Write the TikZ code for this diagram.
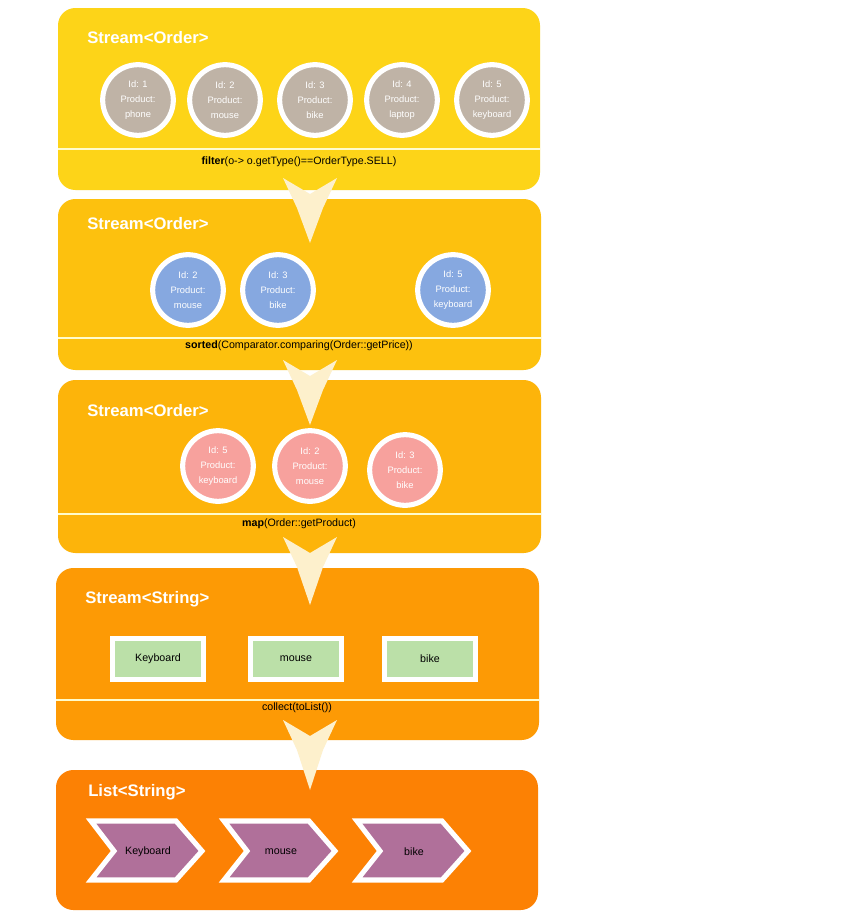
\documentclass[tikz,border=0pt]{standalone}
\usepackage{fontspec}
\setmainfont{Liberation Sans}
\definecolor{p1}{HTML}{FDD418}
\definecolor{p2}{HTML}{FDC10E}
\definecolor{p3}{HTML}{FDB40A}
\definecolor{p4}{HTML}{FD9A05}
\definecolor{p5}{HTML}{FC8104}
\definecolor{grayc}{HTML}{BFB3A6}
\definecolor{bluec}{HTML}{86A8E0}
\definecolor{pinkc}{HTML}{F7A19D}
\definecolor{greenc}{HTML}{BBE0A8}
\definecolor{purc}{HTML}{B0709A}
\definecolor{cream}{HTML}{FDF0CC}
\tikzset{
 panel/.style={rounded corners=13pt,draw=none},
 ttl/.style={anchor=west,text=white,font=\bfseries\fontsize{12.5}{14}\selectfont,inner sep=0},
 op/.style={font=\fontsize{8}{10}\selectfont,inner sep=0},
 item/.style={circle,draw=white,line width=3.8pt,minimum size=53pt,inner sep=0,align=center,text=white,font=\fontsize{7}{11}\selectfont},
 strbox/.style={draw=white,line width=3.8pt,minimum width=68pt,minimum height=31pt,fill=greenc,font=\fontsize{8}{10}\selectfont},
 chev/.style={fill=purc,draw=white,line width=3.8pt,line join=miter},
 bigarrow/.style={fill=cream,draw=none},
 divider/.style={draw=white!80!yellow,line width=1pt}
}
\begin{document}
\begin{tikzpicture}[x=0.75pt,y=-0.75pt]
\useasboundingbox[fill=white] (0,0) rectangle (862,918);
% panels
\fill[p1,panel] (58,8) rectangle (540,190);
\fill[p2,panel] (58,199) rectangle (541,370);
\fill[p3,panel] (58,380) rectangle (541,553);
\fill[p4,panel] (56,568) rectangle (539,740);
\fill[p5,panel] (56,770) rectangle (538,910);
\draw[divider] (58,149) -- (540,149);
\draw[divider] (58,338) -- (541,338);
\draw[divider] (58,514) -- (541,514);
\draw[divider] (56,700) -- (539,700);
% arrows
\foreach \ya/\yb in {178/243, 360/425, 537/605, 720/790}{
 \fill[bigarrow] (283,\ya) -- (310,\ya+16) -- (337,\ya) -- (323,\ya+30) -- (310,\yb) -- (297,\ya+30) -- cycle;
}
% titles
\node[ttl] (t1) at (87,38) {Stream<Order>};
\node[ttl] (t2) at (87,224) {Stream<Order>};
\node[ttl] (t3) at (87,411) {Stream<Order>};
\node[ttl] (t4) at (85,599) {Stream<String>};
\node[ttl] (t5) at (88,792) {List<String>};
% ops
\node[op] (o1) at (299,162) {\textbf{filter}(o-> o.getType()==OrderType.SELL)};
\node[op] (o2) at (299,346) {\textbf{sorted}(Comparator.comparing(Order::getPrice))};
\node[op] (o3) at (299,524) {\textbf{map}(Order::getProduct)};
\node[op] (o4) at (297,708) {collect(toList())};
% panel 1
\node[item,fill=grayc] (a1) at (138,100) {Id: 1\\Product:\\phone};
\node[item,fill=grayc] (a2) at (225,100) {Id: 2\\Product:\\mouse};
\node[item,fill=grayc] (a3) at (315,100) {Id: 3\\Product:\\bike};
\node[item,fill=grayc] (a4) at (402,100) {Id: 4\\Product:\\laptop};
\node[item,fill=grayc] (a5) at (492,100) {Id: 5\\Product:\\keyboard};
% panel 2
\node[item,fill=bluec] (b2) at (188,290) {Id: 2\\Product:\\mouse};
\node[item,fill=bluec] (b3) at (278,290) {Id: 3\\Product:\\bike};
\node[item,fill=bluec] (b5) at (453,290) {Id: 5\\Product:\\keyboard};
% panel 3
\node[item,fill=pinkc] (c5) at (218,466) {Id: 5\\Product:\\keyboard};
\node[item,fill=pinkc] (c2) at (310,466) {Id: 2\\Product:\\mouse};
\node[item,fill=pinkc] (c3) at (405,470) {Id: 3\\Product:\\bike};
% panel 4
\node[strbox] (d1) at (158,659) {Keyboard};
\node[strbox] (d2) at (296,659) {mouse};
\node[strbox] (d3) at (430,659) {bike};
% panel 5
\foreach \x/\t/\n in {88/Keyboard/e1,221/mouse/e2,354/bike/e3}{
 \draw[chev] (\x+3,821) -- (\x+88,821) -- (\x+114,851) -- (\x+88,880) -- (\x+3,880) -- (\x+26,851) -- cycle;
 \node[font=\fontsize{8}{10}\selectfont] (\n) at (\x+60,852) {\t};
}
\end{tikzpicture}
\end{document}
